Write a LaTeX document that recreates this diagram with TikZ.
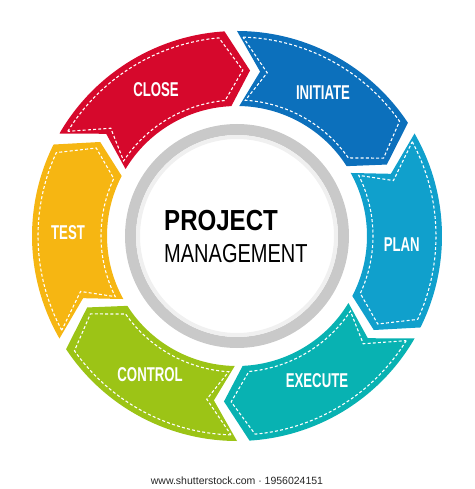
\documentclass[tikz,border=0pt]{standalone}
\usepackage{fontspec}
\usetikzlibrary{positioning}
\newfontfamily\segfont[FakeStretch=0.66]{Liberation Sans}
\newfontfamily\projfont[FakeStretch=0.83]{Liberation Sans}
\newfontfamily\titlefont[FakeStretch=0.77]{Liberation Sans}
\newfontfamily\footfont{Liberation Sans}
\definecolor{cclose}{RGB}{214,8,44}
\definecolor{cinit}{RGB}{12,112,188}
\definecolor{cplan}{RGB}{16,160,204}
\definecolor{cexec}{RGB}{8,178,178}
\definecolor{ccontrol}{RGB}{156,196,22}
\definecolor{ctest}{RGB}{246,182,18}
\newcommand*{\rout}{205}
\newcommand*{\rin}{130}
\newcommand*{\rmid}{166}
% #1 = tail angle, #2 = inset
\newcommand*{\arrowseg}[2]{%
  ({#1-#2*57.3/(\rout-#2)}:{\rout-#2})
  arc[start angle={#1-#2*57.3/(\rout-#2)}, end angle={#1-56.5+#2*57.3/(\rout-#2)}, radius={\rout-#2}]
  -- ({#1-64.5+#2*1.2*57.3/\rmid}:\rmid)
  -- ({#1-57.5+#2*57.3/(\rin+#2)}:{\rin+#2})
  arc[start angle={#1-57.5+#2*57.3/(\rin+#2)}, end angle={#1-1-#2*57.3/(\rin+#2)}, radius={\rin+#2}]
  -- ({#1-8-#2*1.2*57.3/\rmid}:\rmid)
  -- cycle}

\begin{document}
\begin{tikzpicture}[x=1pt,y=1pt,
    stitch/.style={white, line width=1.1, dash pattern=on 3 off 2.2},
    seglabel/.style={text=white, inner sep=0pt, font={\segfont\bfseries\fontsize{20}{22}\selectfont}},
    hub/.style={circle, draw=gray!42, line width=11, minimum size=213, inner sep=0pt},
    title/.style={inner sep=0pt, text=black, font={\titlefont\fontsize{26}{28}\selectfont}},
    footer/.style={inner sep=0pt, text=black!85, font={\footfont\fontsize{10.5}{12}\selectfont}}]
  \useasboundingbox (-237,-253) rectangle (237,236);
  \foreach \tail/\col in {150/cclose, 90/cinit, 30/cplan, -30/cexec, -90/ccontrol, -150/ctest} {
    \fill[\col] \arrowseg{\tail}{0};
    \draw[stitch] \arrowseg{\tail}{6};
  }
  \node[seglabel] (close)    at (119:167) {CLOSE};
  \node[seglabel] (initiate) at (59:167)  {INITIATE};
  \node[seglabel] (plan)     at (-3:165)  {PLAN};
  \node[seglabel] (execute)  at (-61:165) {EXECUTE};
  \node[seglabel] (control)  at (238:164) {CONTROL};
  \node[seglabel] (test)     at (179:169) {TEST};

  \node[hub] (hub) at (0,0) {};
  \draw[gray!12, line width=4] (hub.center) circle[radius=99];
  \node[title, anchor=west, font={\projfont\bfseries\fontsize{29}{31}\selectfont}] (project) at (-73,15) {PROJECT};
  \node[title, anchor=west] (management) at ([yshift=-33]project.west) {MANAGEMENT};

  \node[footer] (credit) at (0,-245) {www.shutterstock.com · 1956024151};
\end{tikzpicture}
\end{document}
